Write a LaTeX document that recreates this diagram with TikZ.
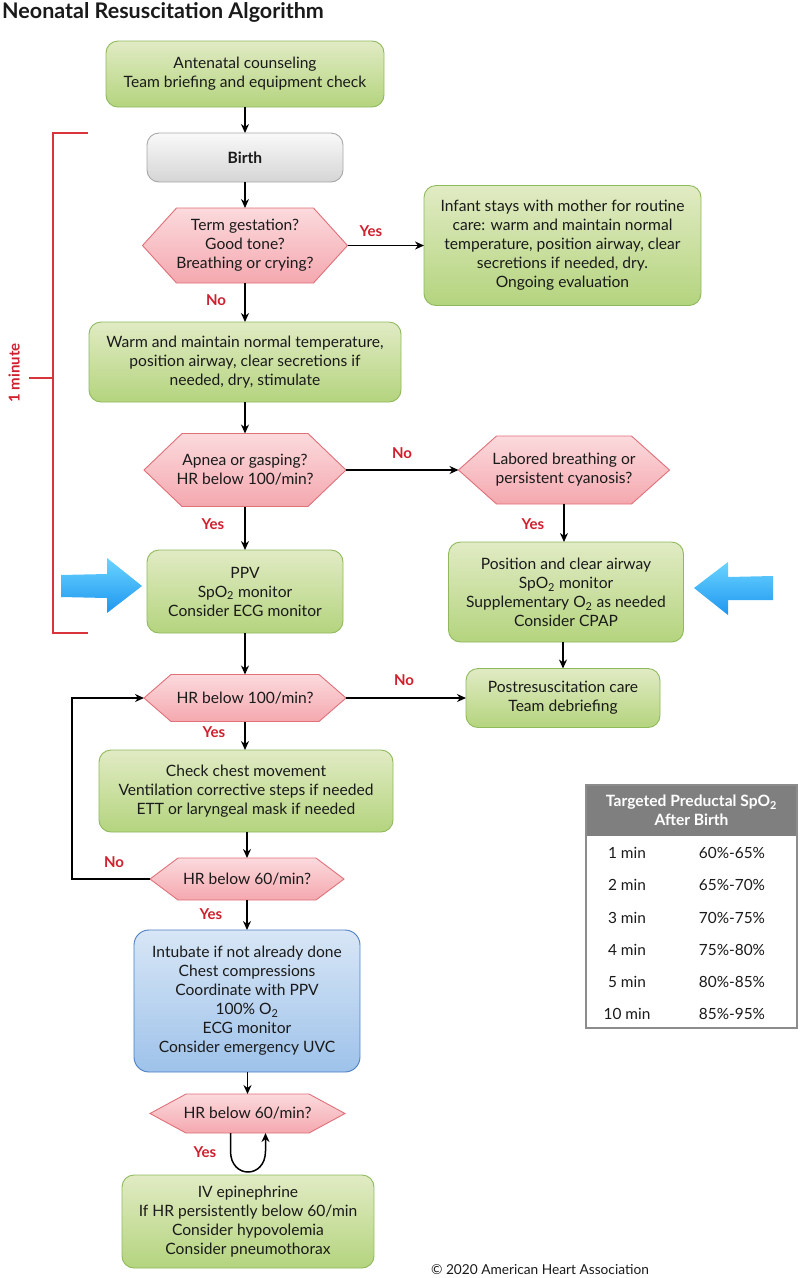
\documentclass[tikz,border=0pt]{standalone}
\usepackage{fontspec}
\setmainfont{Lato}
\usetikzlibrary{arrows.meta,calc}
\definecolor{gtop}{HTML}{E1EBC4}
\definecolor{gbot}{HTML}{B4D47E}
\definecolor{gborder}{HTML}{8FBA5C}
\definecolor{htop}{HTML}{FBDADD}
\definecolor{hbot}{HTML}{F4A8AF}
\definecolor{hborder}{HTML}{E07079}
\definecolor{graytop}{HTML}{F9F9F9}
\definecolor{graybot}{HTML}{D5D5D5}
\definecolor{grayborder}{HTML}{A8A8A8}
\definecolor{btop}{HTML}{D8E6F6}
\definecolor{bbot}{HTML}{9EC2EA}
\definecolor{bborder}{HTML}{4A7FC1}
\definecolor{lblred}{HTML}{D0202E}
\definecolor{brred}{HTML}{D9343B}
\definecolor{hdrgray}{HTML}{7F7F7F}
\definecolor{tblborder}{HTML}{8C8C8C}
\definecolor{arrtop}{HTML}{6AD4FF}
\definecolor{arrbot}{HTML}{1E96F0}
\definecolor{txt}{HTML}{1A1A1A}
\newcommand\mysub[1]{\textsubscript{#1}}
\tikzset{
  base/.style={align=center, font=\fontsize{15.6}{19}\selectfont, text=txt, inner sep=0pt, outer sep=0pt, line width=0.9pt},
  gbox/.style={base, rounded corners=12pt, draw=gborder, top color=gtop, bottom color=gbot},
  graybox/.style={base, rounded corners=12pt, draw=grayborder, top color=graytop, bottom color=graybot},
  bbox/.style={base, rounded corners=15pt, draw=bborder, top color=btop, bottom color=bbot},
  hexfill/.style={draw=hborder, line width=0.9pt, top color=htop, bottom color=hbot},
  hextext/.style={base},
  arr/.style={-{Stealth[length=9pt,width=8pt]}, line width=1.5pt, black},
  lbl/.style={font=\bfseries\fontsize{15}{17}\selectfont, text=lblred, inner sep=0pt},
  brline/.style={draw=brred, line width=1.5pt},
  bigarrow/.style={top color=arrtop, bottom color=arrbot, draw=none},
  cell/.style={font=\fontsize{15.4}{18}\selectfont, text=txt, inner sep=0pt},
}
% name, x, y, w, h, d, text
\newcommand\hexnode[7]{%
  \shade[hexfill] (#2-#4/2,#3) -- (#2-#4/2+#6,#3-#5/2) -- (#2+#4/2-#6,#3-#5/2) -- (#2+#4/2,#3) -- (#2+#4/2-#6,#3+#5/2) -- (#2-#4/2+#6,#3+#5/2) -- cycle;
  \node[hextext, minimum width=#4pt, minimum height=#5pt] (#1) at (#2,#3) {#7};
}
\begin{document}
\begin{tikzpicture}[x=1pt,y=-1pt]
\useasboundingbox (0,0) rectangle (800,1278);
\fill[white] (0,0) rectangle (800,1278);

% title
\node[anchor=west, font=\bfseries\fontsize{21.5}{24}\selectfont, text=txt, inner sep=0pt] (title) at (2,12) {Neonatal Resuscitation Algorithm};

% main column
\node[gbox, minimum width=278pt, minimum height=66pt] (b1) at (245,74) {Antenatal counseling\\Team briefing and equipment check};
\node[graybox, minimum width=196pt, minimum height=49pt, font=\bfseries\fontsize{15.6}{19}\selectfont] (birth) at (245,157.5) {Birth};
\hexnode{h1}{245}{245.5}{205}{75}{34}{Term gestation?\\Good tone?\\Breathing or crying?}
\node[gbox, minimum width=277pt, minimum height=120pt] (infant) at (562.5,245.5) {Infant stays with mother for routine\\care: warm and maintain normal\\temperature, position airway, clear\\secretions if needed, dry.\\Ongoing evaluation};
\node[gbox, minimum width=312pt, minimum height=80pt] (warm) at (245,362) {Warm and maintain normal temperature,\\position airway, clear secretions if\\needed, dry, stimulate};
\hexnode{h2}{245}{470}{202}{73}{38}{Apnea or gasping?\\HR below 100/min?}
\hexnode{h3}{564}{470}{211}{68}{38}{Labored breathing or\\persistent cyanosis?}
\node[gbox, minimum width=196pt, minimum height=83pt] (ppv) at (245,591.5) {PPV\\Sp{O}\mysub{2} monitor\\Consider ECG monitor};
\node[gbox, minimum width=235pt, minimum height=100pt] (pos) at (566,592) {Position and clear airway\\Sp{O}\mysub{2} monitor\\Supplementary O\mysub{2} as needed\\Consider CPAP};
\hexnode{h4}{245}{698}{202}{47}{27}{HR below 100/min?}
\node[gbox, minimum width=194pt, minimum height=59pt] (post) at (563,698) {Postresuscitation care\\Team debriefing};
\node[gbox, minimum width=294pt, minimum height=82pt] (check) at (246,791) {Check chest movement\\Ventilation corrective steps if needed\\ETT or laryngeal mask if needed};
\hexnode{h5}{247}{879}{194}{42}{28}{HR below 60/min?}
\node[bbox, minimum width=226pt, minimum height=142pt] (blue) at (247,1001) {Intubate if not already done\\Chest compressions\\Coordinate with PPV\\100\% O\mysub{2}\\ECG monitor\\Consider emergency UVC};
\hexnode{h6}{247.5}{1113.5}{195}{39}{36}{HR below 60/min?}
\node[gbox, minimum width=252pt, minimum height=93pt] (final) at (248,1221.5) {IV epinephrine\\If HR persistently below 60/min\\Consider hypovolemia\\Consider pneumothorax};

% connectors
\draw[arr] (b1) -- (birth);
\draw[arr] (birth) -- (h1);
\draw[arr] (h1.east) -- (h1.east -| infant.west);
\draw[arr] (h1.south) -- (warm.north);
\draw[arr] (warm) -- (h2);
\draw[arr] (h2.east) -- (h3.west);
\draw[arr] (h2.south) -- (ppv.north);
\draw[arr] (h3.south) -- (h3.south |- pos.north);
\draw[arr] (ppv) -- (h4);
\draw[arr] (h4.east) -- (post.west);
\draw[arr] (pos.south -| post.north) -- (post.north);
\draw[arr] (h4.south) -- (h4.south |- check.north);
\draw[arr] (check.south -| h5.north) -- (h5.north);
\coordinate (lx) at (72,0);
\draw[arr] (h5.west) -- (h5.west -| lx) -- (h4.west -| lx) -- (h4.west);
\draw[arr] (h5.south) -- (h5.south |- blue.north);
\draw[arr] (blue.south -| h6.north) -- (h6.north);
\coordinate (l1) at ($(h6.south)+(-17,0)$);
\coordinate (l2) at ($(h6.south)+(18,0)$);
\draw[arr] (l1) -- ($(l1)+(0,18)$) .. controls ($(l1)+(0,46)$) and ($(l2)+(0,46)$) .. ($(l2)+(0,18)$) -- (l2);

% labels
\node[lbl] (yes1) at (371,231) {Yes};
\node[lbl] (no1) at (216,300) {No};
\node[lbl] (no2) at (402,453) {No};
\node[lbl] (yes2) at (213,524) {Yes};
\node[lbl] (yes3) at (533,524) {Yes};
\node[lbl] (no3) at (404,680) {No};
\node[lbl] (yes4) at (214,732) {Yes};
\node[lbl] (no4) at (114,862) {No};
\node[lbl] (yes5) at (211,914) {Yes};
\node[lbl] (yes6) at (205,1152) {Yes};

% 1 minute bracket
\draw[brline] (88,133) -- (53,133) -- (53,633) -- (88,633);
\draw[brline] (53,378) -- (29,378);
\node[lbl, rotate=90] (onemin) at (14,373) {1 minute};

% big blue arrows
\shade[bigarrow] (61,575) -- (107,574) -- (107,558) -- (142,586) -- (107,613) -- (107,598) -- (61,597) -- cycle;
\shade[bigarrow] (773,576) -- (728,577) -- (728,562) -- (694,588) -- (728,615) -- (728,600) -- (773,600) -- cycle;

% table
\node[draw=none, minimum width=211pt, minimum height=243pt, inner sep=0pt, outer sep=0pt] (tbl) at (691.5,906.5) {};
\node[fill=hdrgray, minimum width=211pt, minimum height=51pt, inner sep=0pt, outer sep=0pt, anchor=north, align=center, text=white, font=\bfseries\fontsize{15.6}{19}\selectfont] (thdr) at (tbl.north) {Targeted Preductal Sp{O}\mysub{2}\\After Birth};
\draw[tblborder, line width=1.5pt] (tbl.north west) rectangle (tbl.south east);
\node[cell] (r1a) at (627,853) {1 min};   \node[cell] (r1b) at (732,853) {60\%-65\%};
\node[cell] (r2a) at (627,885) {2 min};   \node[cell] (r2b) at (732,885) {65\%-70\%};
\node[cell] (r3a) at (627,917.5) {3 min}; \node[cell] (r3b) at (732,917.5) {70\%-75\%};
\node[cell] (r4a) at (627,949.5) {4 min}; \node[cell] (r4b) at (732,949.5) {75\%-80\%};
\node[cell] (r5a) at (627,982) {5 min};   \node[cell] (r5b) at (732,982) {80\%-85\%};
\node[cell] (r6a) at (627,1014) {10 min}; \node[cell] (r6b) at (732,1014) {85\%-95\%};

% copyright
\node[font=\fontsize{13.7}{16}\selectfont, text=txt, inner sep=0pt] (copy) at (540,1270) {\textcopyright\ 2020 American Heart Association};
\end{tikzpicture}
\end{document}
